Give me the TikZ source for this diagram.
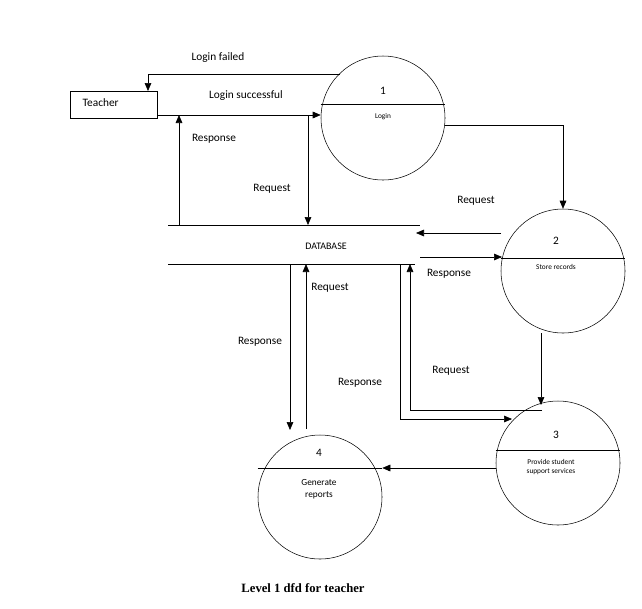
\documentclass[tikz,border=0pt]{standalone}
\usepackage{fontspec}
\setmainfont{Carlito}
\newfontfamily\capfont{Liberation Serif}
\usetikzlibrary{arrows.meta,positioning}
\begin{document}
\begin{tikzpicture}[x=0.75pt,y=-0.75pt,
    proc/.style={draw, circle, minimum size=93pt, inner sep=0pt},
    flow/.style={-{Triangle[length=6pt,width=5pt]}},
    lbl/.style={font=\fontsize{8.5}{10}\selectfont},
    small/.style={font=\fontsize{5.5}{7}\selectfont, align=center}
]
\useasboundingbox (0,0) rectangle (642,608);

% external entity
\node[draw, minimum width=65pt, minimum height=20pt, anchor=north west, inner sep=0pt] (teacher) at (70,91) {};
\node[lbl, anchor=west] (tlbl) at (78,103) {Teacher};

% processes
\node[proc] (p1) at (383,118) {};
\node[proc] (p2) at (563,271) {};
\node[proc] (p3) at (558,463) {};
\node[proc] (p4) at (320,497) {};
\draw (p1.west |- 0,104) -- (p1.east |- 0,104);
\draw (p2.west |- 0,258) -- (p2.east |- 0,258);
\draw (p3.west |- 0,450) -- (p3.east |- 0,450);
\draw (p4.west |- 0,468) -- (p4.east |- 0,468);
\node[lbl] (n1) at (383,91) {1};
\node[small] (t1) at (383,117) {Login};
\node[lbl] (n2) at (556,241) {2};
\node[small] (t2) at (556,267) {Store records};
\node[lbl] (n3) at (556,435) {3};
\node[small] (t3) at (551,467) {Provide student\\support services};
\node[lbl] (n4) at (319,453) {4};
\node[small, font=\fontsize{7}{9}\selectfont] (t4) at (319,489) {Generate\\reports};

% data store
\coordinate (dbtl) at (168,225);
\coordinate (dbtr) at (420,225);
\coordinate (dbbl) at (168,264);
\coordinate (dbbr) at (415,264);
\draw (dbtl) -- (dbtr);
\draw (dbbl) -- (dbbr);
\node[lbl, font=\fontsize{7.5}{9}\selectfont] (db) at (326,246) {DATABASE};

% flows
\coordinate (a) at (340,74);
\draw[flow] (a) -- (148,74) -- (148,91);
\node[lbl] at (218,58) {Login failed};
\draw[flow] (157,115) -- (p1.west |- 0,115);
\node[lbl] at (246,96) {Login successful};
\draw[flow] (179,225) -- (179,115);
\node[lbl] at (214,139) {Response};
\draw[flow] (308,115) -- (308,225);
\node[lbl] at (272,189) {Request};
\draw[flow] (445,125) -- (563,125) -- (p2.north);
\draw[flow] (501,233) -- (416,233);
\node[lbl] at (476,201) {Request};
\draw[flow] (420,257) -- (502,257);
\node[lbl] at (449,274) {Response};
\draw[flow] (541,333) -- (541,405);
\draw[flow] (542,410) -- (410,410) -- (410,264);
\node[lbl] at (451,371) {Request};
\draw[flow] (400,264) -- (400,419) -- (512,419);
\node[lbl] at (360,383) {Response};
\draw[flow] (290,264) -- (290,430);
\node[lbl] at (260,342) {Response};
\draw[flow] (306,429) -- (306,264);
\node[lbl] at (330,288) {Request};
\draw[flow] (p3.west |- 0,468) -- (p4.east |- 0,468);

\node[font=\capfont\bfseries\fontsize{9.5}{11}\selectfont] (cap) at (303,588) {Level 1 dfd for teacher};
\end{tikzpicture}
\end{document}
